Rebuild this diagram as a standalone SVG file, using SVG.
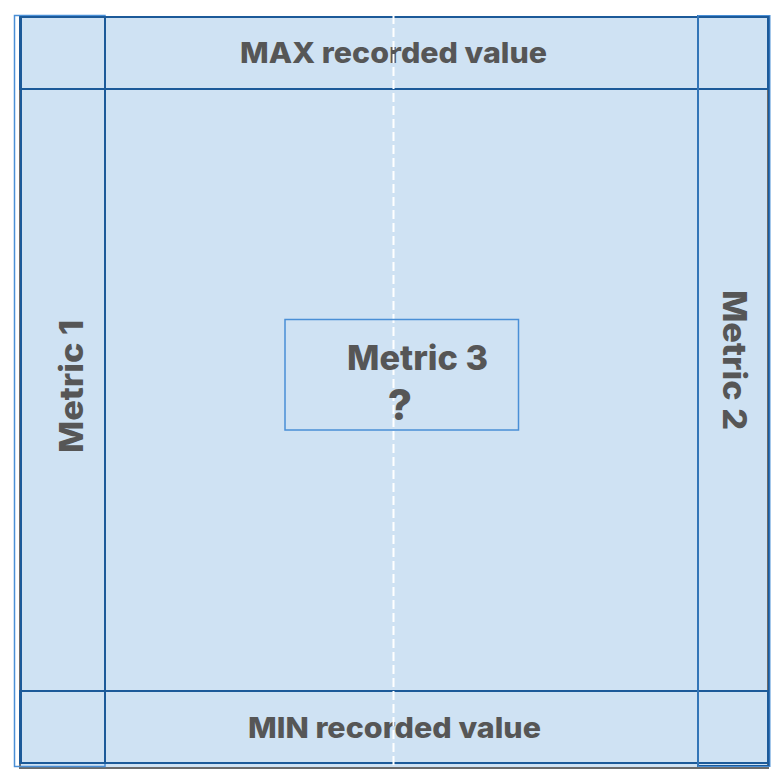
<svg xmlns="http://www.w3.org/2000/svg" width="784" height="780" viewBox="0 0 784 780">
<style>
.band{fill:#cfe2f3;stroke:#1c5a99;stroke-width:2}
.lt{fill:none;stroke:#4a8fd6;stroke-width:1.5}
.lbl{font-family:Inter,"Open Sans","Liberation Sans",sans-serif;font-weight:800;fill:#565656}
</style>
<rect x="0" y="0" width="784" height="780" fill="#ffffff"/>
<g id="frame">
<rect x="20" y="17" width="748" height="751" fill="#cfe2f3" stroke="#6b6b6b" stroke-width="2"/>
</g>
<g id="max-band">
<rect class="band" x="20" y="17" width="748" height="72"/>
<text class="lbl" x="393.5" y="63" font-size="28" text-anchor="middle" textLength="307" lengthAdjust="spacingAndGlyphs">MAX recorded value</text>
</g>
<g id="min-band">
<rect class="band" x="20" y="691" width="748" height="72"/>
<text class="lbl" x="394.5" y="738" font-size="28" text-anchor="middle" textLength="293" lengthAdjust="spacingAndGlyphs">MIN recorded value</text>
</g>
<g id="metric1">
<rect x="14.5" y="15.5" width="90.5" height="751" fill="none" stroke="#4a8fd6" stroke-width="1.5"/>
<rect x="21" y="17" width="84" height="746" fill="none" stroke="#1c5a99" stroke-width="2"/>
<text class="lbl" transform="translate(83,386.5) rotate(-90)" font-size="32" text-anchor="middle" textLength="133" lengthAdjust="spacingAndGlyphs">Metric 1</text>
</g>
<g id="metric2">
<rect x="698" y="16" width="71" height="750" fill="none" stroke="#1c5a99" stroke-width="2"/>
<rect x="698" y="15.5" width="72" height="751" fill="none" stroke="#4a8fd6" stroke-width="1"/>
<text class="lbl" transform="translate(723,360) rotate(90)" font-size="32" text-anchor="middle" textLength="140" lengthAdjust="spacingAndGlyphs">Metric 2</text>
</g>
<g id="connectors">
<line x1="393.5" y1="15" x2="393.5" y2="766" stroke="#ffffff" stroke-width="2" stroke-dasharray="9,4"/>
</g>
<g id="metric3">
<rect class="lt" x="285" y="319.5" width="233.5" height="110.5"/>
<text class="lbl" x="417.5" y="370" font-size="34" text-anchor="middle" textLength="141" lengthAdjust="spacingAndGlyphs">Metric 3</text>
<text class="lbl" x="400" y="420" font-size="42" text-anchor="middle">?</text>
</g>
</svg>
